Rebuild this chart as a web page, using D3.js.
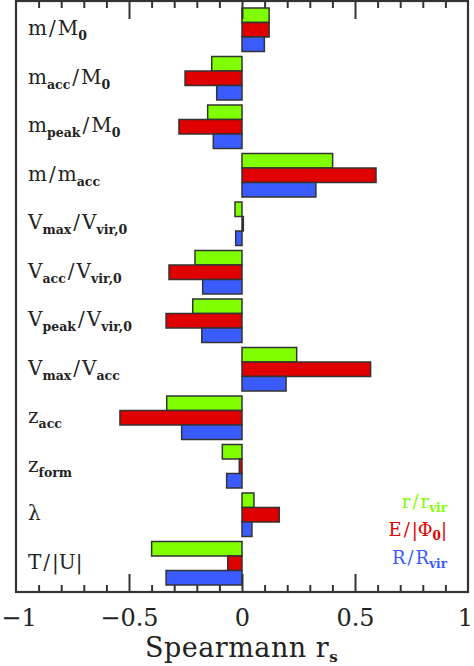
<!DOCTYPE html>
<html>
<head>
<meta charset="utf-8">
<script src="https://cdn.jsdelivr.net/npm/d3@7"></script>
<style>
  html, body { margin: 0; padding: 0; background: #fff; }
  svg { display: block; }
</style>
</head>
<body>
<svg id="chart" width="474" height="666"></svg>
<script>
// ---- data ----
const categories = ["m/M_{0}", "m_{acc}/M_{0}", "m_{peak}/M_{0}", "m/m_{acc}",
  "V_{max}/V_{vir,0}", "V_{acc}/V_{vir,0}", "V_{peak}/V_{vir,0}", "V_{max}/V_{acc}",
  "z_{acc}", "z_{form}", "λ", "T/|U|"];
const seriesNames = ["r/r_{vir}", "E/|Φ_{0}|", "R/R_{vir}"];
const seriesColors = ["#80ff00", "#e00000", "#3a5cff"];
const rRvir = [0.12, -0.134, -0.152, 0.401, -0.031, -0.208, -0.218, 0.242, -0.333, -0.087, 0.053, -0.40];
const eUphi = [0.12, -0.252, -0.279, 0.593, 0.006, -0.323, -0.336, 0.569, -0.54, -0.012, 0.165, -0.063];
const bigR  = [0.099, -0.112, -0.127, 0.327, -0.028, -0.174, -0.178, 0.195, -0.267, -0.068, 0.044, -0.336];
const seriesValues = [rRvir, eUphi, bigR];
const majorTicks = [-1, -0.5, 0, 0.5, 1];
const majorTickLabels = ["\u22121", "\u22120.5", "0", "0.5", "1"];
const minorTicks = [-0.9,-0.8,-0.7,-0.6,-0.4,-0.3,-0.2,-0.1,0.1,0.2,0.3,0.4,0.6,0.7,0.8,0.9];
const xTitle = "Spearmann r_{s}";

// ---- layout ----
const svg = d3.select("#chart");
const L = 16, R = 468, T = 1, B = 592;
const x = d3.scaleLinear().domain([-1, 1]).range([L, R]);
const y = d3.scaleBand().domain(categories).range([T + 4.5, B - 4.5]);
const yIn = d3.scaleBand().domain(d3.range(3)).range([2.5, y.bandwidth() - 2.5]);
const serif = "'DejaVu Serif', serif";

function parseRich(s) {
  const parts = [];
  const re = /_\{([^}]*)\}/g;
  let last = 0, m;
  while ((m = re.exec(s)) !== null) {
    if (m.index > last) parts.push({t: s.slice(last, m.index), sub: false});
    parts.push({t: m[1], sub: true});
    last = re.lastIndex;
  }
  if (last < s.length) parts.push({t: s.slice(last), sub: false});
  return parts;
}
function richText(sel, str, size, subSize, subShift) {
  const parts = parseRich(str);
  let down = false;
  parts.forEach(p => {
    if (p.sub) {
      sel.append("tspan").attr("dy", subShift).attr("font-size", subSize)
        .attr("font-weight", "bold").text(p.t);
      down = true;
    } else {
      const segs = p.t.split(/(\/)/).filter(d => d !== "");
      segs.forEach((seg, i) => {
        const ts = sel.append("tspan").attr("font-size", size).text(seg);
        if (down) { ts.attr("dy", -subShift); down = false; }
        if (seg === "/") ts.attr("dx", 2);
        else if (i > 0 && segs[i-1] === "/") ts.attr("dx", 2);
      });
    }
  });
}

// ---- bars ----
const g = svg.append("g");
categories.forEach((c, ci) => {
  seriesValues.forEach((vals, si) => {
    const v = vals[ci];
    g.append("rect")
      .attr("x", x(Math.min(0, v)))
      .attr("y", y(c) + yIn(si))
      .attr("width", Math.abs(x(v) - x(0)))
      .attr("height", yIn.bandwidth())
      .attr("fill", seriesColors[si])
      .attr("stroke", "#333")
      .attr("stroke-width", 1.5);
  });
});

// ---- frame ----
svg.append("rect").attr("x", L).attr("y", T).attr("width", R - L).attr("height", B - T)
  .attr("fill", "none").attr("stroke", "#333").attr("stroke-width", 2.2);

// ---- ticks via axes ----
function tickAxis(axisFn, vals, size, ty) {
  const a = svg.append("g").attr("transform", `translate(0,${ty})`)
    .call(axisFn(x).tickValues(vals).tickSize(size).tickFormat(""));
  a.select(".domain").remove();
  a.selectAll("line").attr("stroke", "#333").attr("stroke-width", 2);
  return a;
}
tickAxis(d3.axisBottom, minorTicks, -7, B);
tickAxis(d3.axisBottom, [-0.5, 0, 0.5], -18, B);
tickAxis(d3.axisTop, minorTicks, -7, T);
tickAxis(d3.axisTop, [-0.5, 0, 0.5], -18, T);

// tick labels
const tl = svg.append("g").attr("transform", `translate(0,${B})`)
  .call(d3.axisBottom(x).tickValues(majorTicks).tickSize(0).tickPadding(0)
    .tickFormat((d, i) => majorTickLabels[i]));
tl.select(".domain").remove();
tl.selectAll("text").attr("font-family", serif).attr("font-size", 24)
  .attr("fill", "#222").attr("dy", null).attr("y", 34)
  .attr("dx", (d, i) => i === 0 ? 2.5 : (i === majorTicks.length - 1 ? -3 : 0));

// axis title
const tt = svg.append("text").attr("x", 145).attr("y", 657)
  .attr("font-family", serif).attr("fill", "#222").attr("letter-spacing", 0.5);
richText(tt, xTitle, 27, 15, 5);

// ---- category labels ----
categories.forEach(c => {
  const t = svg.append("text").attr("x", 28).attr("y", y(c) + y.bandwidth() / 2 + 5.5)
    .attr("font-family", serif).attr("fill", "#222");
  richText(t, c, 20, 12.5, 5);
});

// ---- legend ----
const legY = [508, 536, 564];
seriesNames.forEach((n, i) => {
  const t = svg.append("text").attr("x", 447).attr("y", legY[i])
    .attr("text-anchor", "end").attr("font-family", serif)
    .attr("fill", seriesColors[i]);
  richText(t, n, 18, 12, 4);
});
</script>
</body>
</html>
